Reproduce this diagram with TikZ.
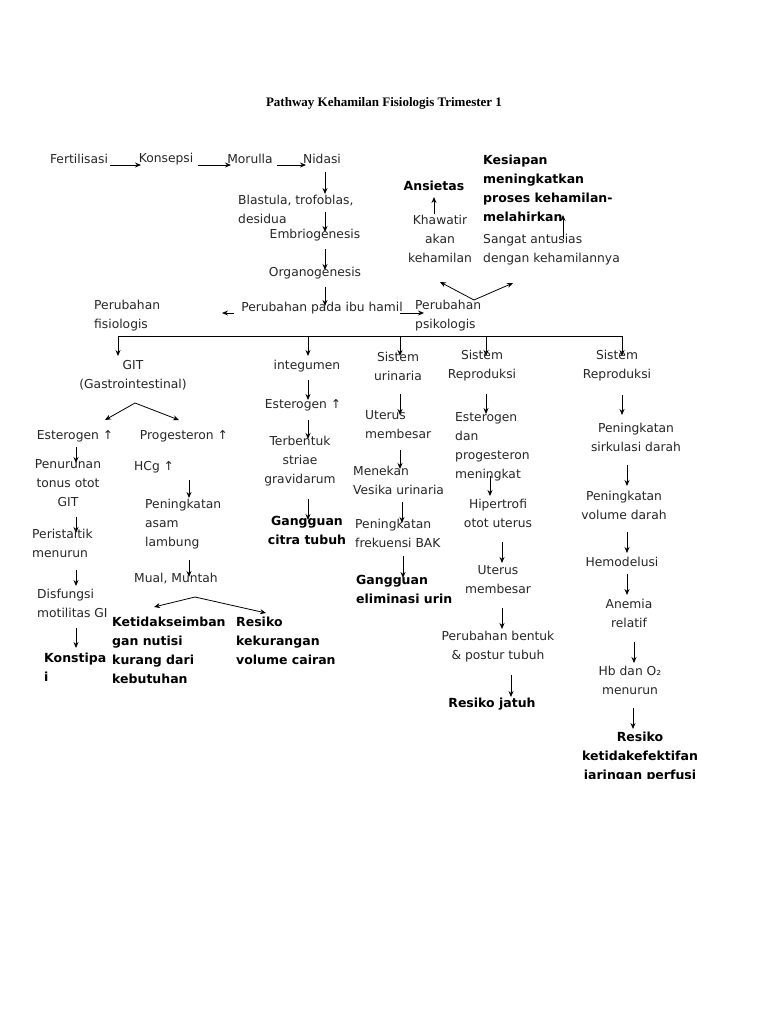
\documentclass[tikz,border=0pt]{standalone}
\usepackage{fontspec}
\setmainfont{DejaVu Sans}
\newfontfamily\titlefont{Liberation Serif}
\usetikzlibrary{arrows.meta}
\begin{document}
\begin{tikzpicture}[x=1pt,y=-1pt,
  t/.style={inner sep=0pt,font=\fontsize{12.3}{19}\selectfont,align=center,text=black!85},
  tl/.style={t,align=left,anchor=west},
  b/.style={t,font=\bfseries\fontsize{12.5}{19}\selectfont,text=black},
  bl/.style={b,align=left,anchor=west},
  arr/.style={-{Stealth[length=6pt,width=5pt]},line width=0.8pt}]
\useasboundingbox (0,0) rectangle (768,1024);
\fill[white] (0,0) rectangle (768,1024);
\node[inner sep=0pt,font=\titlefont\bfseries\fontsize{13}{15}\selectfont] (title) at (384,103) {Pathway Kehamilan Fisiologis Trimester 1};
% top chain
\node[t] (fert) at (79,159) {Fertilisasi};
\node[t] (kons) at (166,159) {Konsepsi};
\node[t] (mor) at (250,159) {Morulla};
\node[t] (nid) at (322,159) {Nidasi};
\draw[arr] (110,165) -- (141,165);
\draw[arr] (198,165) -- (231,165);
\draw[arr] (277,165) -- (306,165);
\draw[arr] (325,172) -- (325,194);
\node[tl] (blas) at (238,209) {Blastula, trofoblas,\\desidua};
\draw[arr] (325,212) -- (325,232);
\node[t] (emb) at (315,235) {Embriogenesis};
\draw[arr] (325,249) -- (325,270);
\node[t] (org) at (315,273) {Organogenesis};
\draw[arr] (325,287) -- (325,306);
\node[t] (ibu) at (322,308) {Perubahan pada ibu hamil};
\draw[arr] (234,313) -- (222,313);
\draw[arr] (400,313) -- (424,313);
\node[tl] (fis) at (94,316) {Perubahan\\fisiologis};
\node[tl] (psi) at (415,316) {Perubahan\\psikologis};
\coordinate (psitop) at (474,300);
\draw[arr] (psitop) -- (440,282);
\draw[arr] (psitop) -- (513,283);
% psych
\node[b] (ans) at (434,186) {Ansietas};
\node[t] (khaw) at (440,239) {Khawatir\\akan\\kehamilan};
\draw[arr] (434,214) -- (434,197);
\node[bl] (kes) at (483,188) {Kesiapan\\meningkatkan\\proses kehamilan-\\melahirkan};
\node[tl] (sang) at (483,250) {Sangat antusias\\dengan kehamilannya};
\draw[arr] (563,239) -- (563,215);
% bus
\draw[line width=0.8pt] (118,336) -- (623,336);
\foreach \x in {118,308,400,486,622} \draw[arr] (\x,336) -- (\x,356);
% GIT
\node[t] (git) at (133,375) {GIT\\(Gastrointestinal)};
\coordinate (gb) at (135,403);
\draw[arr] (gb) -- (105,420);
\draw[arr] (gb) -- (179,420);
\node[t] (est1) at (75,436) {Esterogen ↑};
\node[t] (prog) at (184,436) {Progesteron ↑};
\draw[arr] (76,447) -- (76,463);
\node[t] (pen) at (68,483) {Penurunan\\tonus otot\\GIT};
\draw[arr] (76,517) -- (76,533);
\node[tl] (per) at (32,543) {Peristaltik\\menurun};
\draw[arr] (76,570) -- (76,586);
\node[tl] (dis) at (37,603) {Disfungsi\\motilitas GI};
\draw[arr] (76,628) -- (76,648);
\node[bl] (kon) at (44,667) {Konstipa\\i};
\node[tl] (hcg) at (134,467) {HCg ↑};
\draw[arr] (189,480) -- (189,498);
\node[tl] (asam) at (145,524) {Peningkatan\\asam\\lambung};
\draw[arr] (189,560) -- (189,577);
\node[tl] (mual) at (134,579) {Mual, Muntah};
\coordinate (mb) at (195,597);
\draw[arr] (mb) -- (154,607);
\draw[arr] (mb) -- (266,613);
\node[bl] (ket) at (112,650) {Ketidakseimban\\gan nutisi\\kurang dari\\kebutuhan};
\node[bl] (res1) at (236,641) {Resiko\\kekurangan\\volume cairan};
% integumen
\node[t] (int) at (307,366) {integumen};
\draw[arr] (308,380) -- (308,400);
\node[t] (est2) at (303,405) {Esterogen ↑};
\draw[arr] (308,420) -- (308,439);
\node[t] (strie) at (300,461) {Terbentuk\\striae\\gravidarum};
\draw[arr] (308,499) -- (308,520);
\node[b] (citra) at (307,530) {Gangguan\\citra tubuh};
% urinaria
\node[t] (uri) at (398,366) {Sistem\\urinaria};
\draw[arr] (400,394) -- (400,415);
\node[tl] (ut1) at (365,425) {Uterus\\membesar};
\draw[arr] (400,450) -- (400,469);
\node[tl] (men) at (353,480) {Menekan\\Vesika urinaria};
\draw[arr] (402,502) -- (402,523);
\node[tl] (frek) at (355,533) {Peningkatan\\frekuensi BAK};
\draw[arr] (403,556) -- (403,578);
\begin{scope}
\clip (340,560) rectangle (455,610);
\node[bl] (elim) at (356,589) {Gangguan\\eliminasi urin};
\end{scope}
% reproduksi 1
\node[t] (rep1) at (482,366) {Sistem\\Reproduksi};
\draw[arr] (486,394) -- (486,414);
\node[tl] (estp) at (455,447) {Esterogen\\dan\\progesteron\\meningkat};
\draw[arr] (490,476) -- (490,496);
\node[t] (hip) at (498,513) {Hipertrofi\\otot uterus};
\draw[arr] (502,542) -- (502,563);
\node[t] (ut2) at (498,580) {Uterus\\membesar};
\draw[arr] (502,608) -- (502,629);
\node[t] (bent) at (498,647) {Perubahan bentuk\\\& postur tubuh};
\draw[arr] (511,675) -- (511,697);
\node[b] (jat) at (492,704) {Resiko jatuh};
% reproduksi 2
\node[t] (rep2) at (617,366) {Sistem\\Reproduksi};
\draw[arr] (622,395) -- (622,415);
\node[t] (sirk) at (636,437) {Peningkatan\\sirkulasi darah};
\draw[arr] (627,465) -- (627,486);
\node[t] (vol) at (624,505) {Peningkatan\\volume darah};
\draw[arr] (627,532) -- (627,553);
\node[t] (hemo) at (622,562) {Hemodelusi};
\draw[arr] (627,574) -- (627,595);
\node[t] (anem) at (629,613) {Anemia\\relatif};
\draw[arr] (634,642) -- (634,663);
\node[t] (hb) at (630,680) {Hb dan O₂\\menurun};
\draw[arr] (633,708) -- (633,729);
\begin{scope}
\clip (560,720) rectangle (720,778);
\node[b] (perf) at (640,757) {Resiko\\ketidakefektifan\\jaringan perfusi};
\end{scope}
\end{tikzpicture}
\end{document}
